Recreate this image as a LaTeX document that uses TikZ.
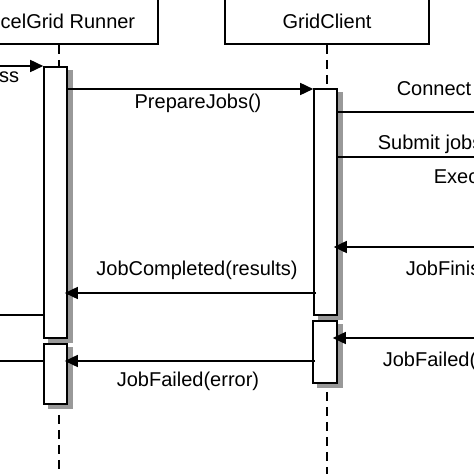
\documentclass[tikz,border=0pt]{standalone}
\usepackage{fontspec}
\setmainfont{Liberation Sans}
\usetikzlibrary{arrows.meta,shadows}
\begin{document}
\begin{tikzpicture}[x=1pt,y=-1pt,line width=1.6pt,
  head/.style={draw, minimum height=60pt, inner sep=0pt},
  act/.style={draw, fill=white, minimum width=23pt, inner sep=0pt,
    drop shadow={shadow xshift=5pt,shadow yshift=-4pt,fill=black!40,draw=black!40,opacity=1}},
  life/.style={dash pattern=on 9pt off 6pt},
  msg/.style={-{Triangle[length=13pt,width=12pt]}},
  lbl/.style={font=\fontsize{20}{24}\selectfont, inner sep=0pt}]
\useasboundingbox (0,0) rectangle (474,474);
\clip (0,0) rectangle (474,474);
% headers
\node[head, minimum width=198pt] (h1) at (59,14) {};
\node[head, minimum width=204pt] (h2) at (327,14) {};
\node[lbl, anchor=base east] (t0) at (136,28) {celGrid Runner};
\node[lbl, anchor=base] (t00) at (327,28) {GridClient};
% activation boxes
\node[act, minimum height=271pt] (a1) at (55.5,202.5) {};
\node[act, minimum height=60pt] (a2) at (55.5,374) {};
\node[act, minimum height=226pt] (b1) at (325.5,202) {};
\node[act, minimum height=62pt, minimum width=24pt] (b2) at (325,352) {};
% lifelines
\coordinate (e1) at (59,480);
\coordinate (e2) at (327,480);
\draw[life] (h1.south) -- (h1.south |- a1.north);
\draw[life] (h2.south) -- (h2.south |- b1.north);
\draw[life] (h1.south |- a2.south) ++(0,10) -- (e1);
\draw[life] (h2.south |- b2.south) ++(0,8) -- (e2);
% messages
\coordinate (in0) at (-10,66);
\draw[msg] (in0) -- (a1.west |- in0);
\coordinate (m1) at (0,89);
\draw[msg] (a1.east |- m1) -- (b1.west |- m1);
\coordinate (r1) at (480,112);
\draw (b1.east |- r1) -- (r1);
\coordinate (r2) at (480,157);
\draw (b1.east |- r2) -- (r2);
\coordinate (r3) at (480,247);
\draw[msg, shorten >=-4pt] (r3) -- (b1.east |- r3);
\coordinate (m2) at (0,293);
\draw[msg, shorten <=-3pt, shorten >=-3pt] (b1.west |- m2) -- (a1.east |- m2);
\coordinate (l1) at (-10,315);
\draw[shorten >=-2pt] (l1) -- (a1.west |- l1);
\coordinate (r4) at (480,338);
\draw[msg, shorten >=-5pt] (r4) -- (b2.east |- r4);
\coordinate (m3) at (0,361);
\draw[msg, shorten <=-3pt, shorten >=-3pt] (b2.west |- m3) -- (a2.east |- m3);
\coordinate (l2) at (-10,361);
\draw[shorten >=-2pt] (l2) -- (a2.west |- l2);
% labels
\node[lbl, anchor=base east] (t1) at (20,82) {ess};
\node[lbl, anchor=base] (t2) at (198,108) {PrepareJobs()};
\node[lbl, anchor=base west] (t3) at (396,95) {Connect};
\node[lbl, anchor=base west] (t4) at (377,149) {Submit jobs};
\node[lbl, anchor=base west] (t5) at (433,183) {Exec};
\node[lbl, anchor=base west] (t6) at (405,275) {JobFinis};
\node[lbl, anchor=base west] (t7) at (382,366) {JobFailed(};
\node[lbl, anchor=base] (t8) at (197,275) {JobCompleted(results)};
\node[lbl, anchor=base] (t9) at (188,386) {JobFailed(error)};
\end{tikzpicture}
\end{document}
